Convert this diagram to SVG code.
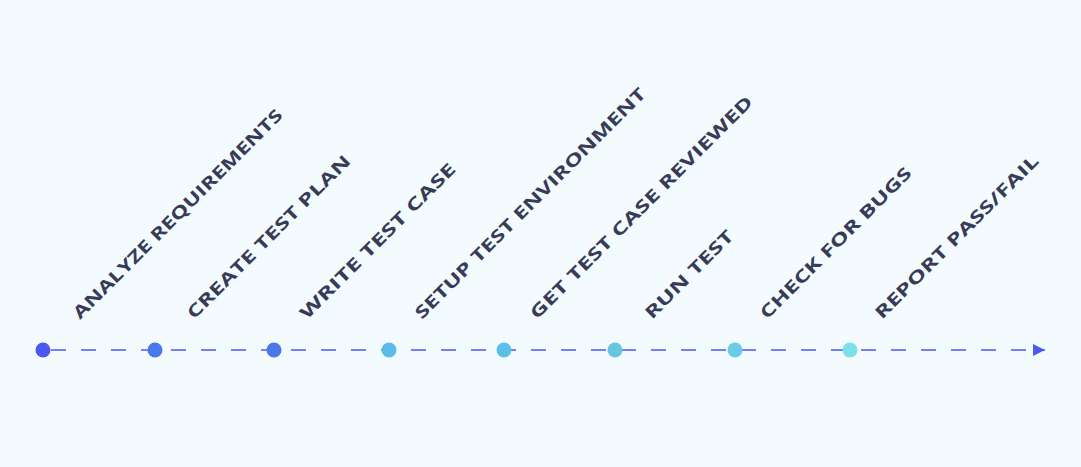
<svg xmlns="http://www.w3.org/2000/svg" width="1081" height="467" viewBox="0 0 1081 467">
<defs>
<style>
.l{font-family:"Open Sans","Liberation Sans",sans-serif;font-weight:bold;font-size:17px;fill:#383b58}
</style>
<marker id="a" markerWidth="12" markerHeight="12" refX="12" refY="6" orient="auto" markerUnits="userSpaceOnUse"><path d="M0,0 L12,6 L0,12 Z" fill="#4a5af0"/></marker>
</defs>
<rect width="1081" height="467" fill="#f3fbfe"/>
<g id="connectors"><line x1="43" y1="350" x2="1045" y2="350" stroke="#4a5af0" stroke-width="1.5" stroke-dasharray="15 15" stroke-dashoffset="-8" marker-end="url(#a)"/></g>
<g id="n1"><circle cx="43" cy="350" r="7.5" fill="#4a5af0"/><text class="l" transform="translate(80,320) rotate(-45)" textLength="288" lengthAdjust="spacingAndGlyphs">ANALYZE REQUIREMENTS</text></g>
<g id="n2"><circle cx="155" cy="350" r="7.5" fill="#4a78e8"/><text class="l" transform="translate(194,320) rotate(-45)" textLength="223" lengthAdjust="spacingAndGlyphs">CREATE TEST PLAN</text></g>
<g id="n3"><circle cx="274" cy="350" r="7.5" fill="#4a78e8"/><text class="l" transform="translate(307,320) rotate(-45)" textLength="212" lengthAdjust="spacingAndGlyphs">WRITE TEST CASE</text></g>
<g id="n4"><circle cx="389" cy="350" r="7.5" fill="#5bbce8"/><text class="l" transform="translate(422,320) rotate(-45)" textLength="318" lengthAdjust="spacingAndGlyphs">SETUP TEST ENVIRONMENT</text></g>
<g id="n5"><circle cx="504" cy="350" r="7.5" fill="#5bbfe8"/><text class="l" transform="translate(537,320) rotate(-45)" textLength="307" lengthAdjust="spacingAndGlyphs">GET TEST CASE REVIEWED</text></g>
<g id="n6"><circle cx="615" cy="350" r="7.5" fill="#66c8e0"/><text class="l" transform="translate(652,320) rotate(-45)" textLength="117" lengthAdjust="spacingAndGlyphs">RUN TEST</text></g>
<g id="n7"><circle cx="735" cy="350" r="7.5" fill="#6accE6"/><text class="l" transform="translate(767,320) rotate(-45)" textLength="206" lengthAdjust="spacingAndGlyphs">CHECK FOR BUGS</text></g>
<g id="n8"><circle cx="850" cy="350" r="7.5" fill="#7ce0e8"/><text class="l" transform="translate(882,320) rotate(-45)" textLength="223" lengthAdjust="spacingAndGlyphs">REPORT PASS/FAIL</text></g>
</svg>
